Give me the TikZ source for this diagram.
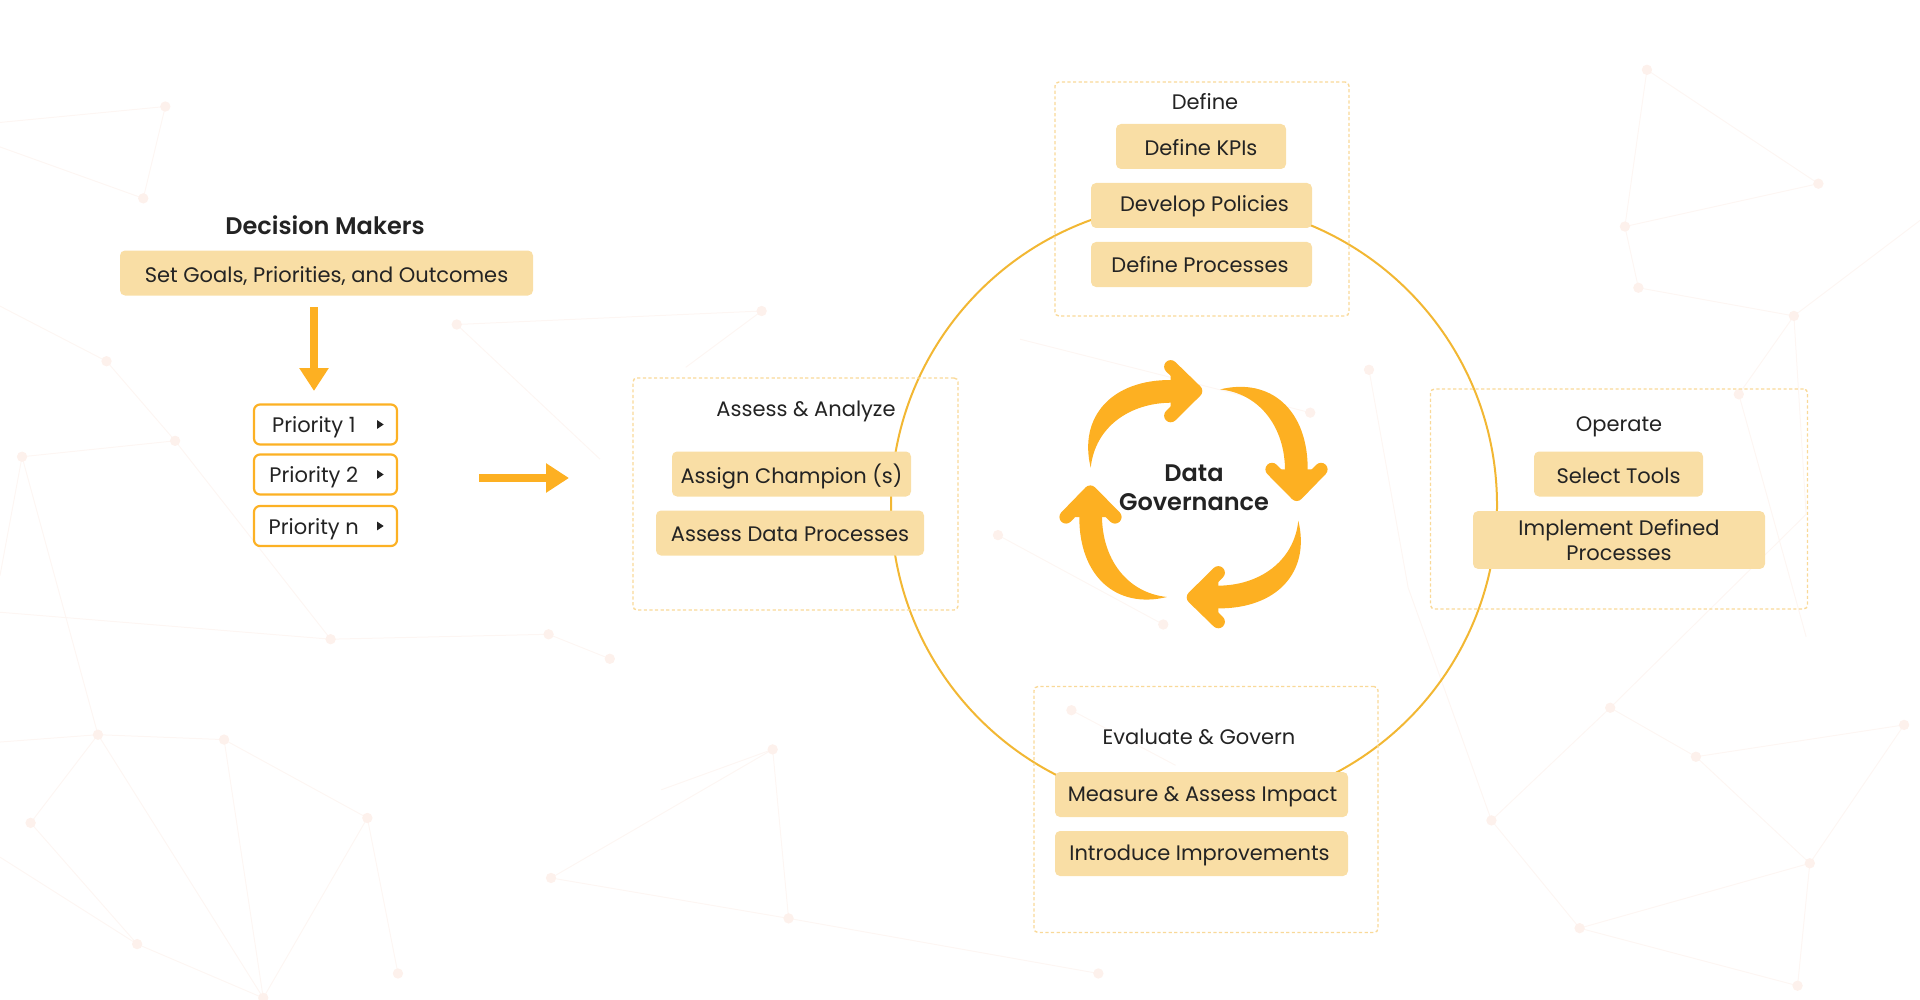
\documentclass[tikz,border=0pt]{standalone}
\usepackage{fontspec}
\setmainfont[BoldFont={Poppins SemiBold}]{Poppins}
\usepackage{tikz}
\usetikzlibrary{arrows.meta}
\definecolor{amber}{HTML}{FDB022}
\definecolor{sand}{HTML}{F9DEA5}
\definecolor{ringline}{HTML}{F2B733}
\definecolor{inkline}{HTML}{232323}
\definecolor{mist}{HTML}{FDF6F3}
\definecolor{mistdot}{HTML}{FDF1EC}
\def\picwidth{1920}
\def\hauteur{1000}
\tikzset{
	stepbox/.style={fill=sand, rounded corners=2.5pt, inner sep=0pt, text=inkline, align=center, font=\fontsize{10.5}{12.6}\selectfont},
	titlenode/.style={inner sep=0pt, anchor=base, text=inkline, font=\fontsize{10.5}{12}\selectfont},
	groupbox/.style={draw=sand!90!amber, line width=0.7pt, dash pattern=on 1.6pt off 1.2pt, rounded corners=2pt},
	prioritybox/.style={draw=amber!90!ringline, fill=white, line width=1.1pt, rounded corners=3pt, inner sep=0pt, minimum width=71.5pt, minimum height=20pt, text height=9pt, text depth=0pt, text=inkline, font=\fontsize{10.5}{12}\selectfont},
	bigarrow/.style={draw=amber, line width=4pt, -{Triangle[width=14pt,length=11.5pt]}}
}
\newcommand{\sizedbox}[7]{\node[stepbox, text height=9pt, text depth=0pt, minimum width=#4*0.5pt, minimum height=#5*0.5pt] (#1) at (#2,#3) {\raisebox{#6}{#7}};}
\begin{document}
\begin{tikzpicture}[x=0.5pt, y=-0.5pt]
	\useasboundingbox (0,0) rectangle (\picwidth,\hauteur);
	% faint network behind everything
	\begin{scope}[x=0.61225pt, y=-0.61225pt]
	\foreach \xa/\ya/\xb/\yb in {0/100/135/87, 135/87/117/162, 117/162/0/120, 87/295/143/360, 143/360/18/373, 18/373/0/470, 18/373/80/600, 143/360/270/522, 0/500/270/522, 87/295/0/250, 80/600/183/604, 183/604/300/668, 80/600/25/672, 80/600/215/815, 183/604/215/815, 300/668/215/815, 300/668/325/795, 25/672/112/771, 112/771/215/815, 112/771/0/700, 0/606/80/600, 373/265/622/254, 373/265/490/375, 622/254/560/300, 448/518/498/538, 270/522/448/518, 450/717/631/612, 631/612/644/750, 450/717/644/750, 644/750/897/795, 631/612/540/645, 1345/57/1485/150, 1485/150/1327/185, 1345/57/1327/185, 1327/185/1338/235, 1338/235/1465/258, 1465/258/1420/322, 1465/258/1568/180, 1465/258/1475/420, 1420/322/1475/520, 1315/578/1385/618, 1385/618/1555/592, 1315/578/1218/670, 1218/670/1290/758, 1290/758/1478/705, 1385/618/1478/705, 1478/705/1468/805, 1290/758/1468/805, 1218/670/1150/480, 1315/578/1475/420, 1555/592/1478/705, 1118/302/1150/480, 833/277/1070/337, 815/437/950/510, 875/580/960/625}
		\draw[mist, line width=0.5pt] (\xa,\ya)--(\xb,\yb);
	\foreach \xa/\ya in {135/87, 117/162, 87/295, 143/360, 18/373, 270/522, 80/600, 183/604, 300/668, 25/672, 112/771, 215/815, 325/795, 450/717, 631/612, 644/750, 498/538, 448/518, 622/254, 373/265, 1345/57, 1485/150, 1327/185, 1338/235, 1465/258, 1420/322, 1315/578, 1385/618, 1555/592, 1218/670, 1290/758, 1478/705, 1468/805, 897/795, 875/580, 1070/337, 815/437, 950/510, 1118/302}
		\fill[mistdot] (\xa,\ya) circle (2.6pt);
	\end{scope}
	% big ring
	\draw[ringline, line width=1pt] (1194,505) circle (151.5pt);
	% left column
	\node[titlenode, font=\fontsize{12}{14}\bfseries] (deciders) at (325,234.5) {Decision Makers};
	\sizedbox{goals}{326.5}{273}{413}{45}{-.1pt}{Set Goals, Priorities, and Outcomes}
	\coordinate (downtop) at (314,307);
	\coordinate (downend) at (314,391);
	\draw[bigarrow] (downtop)--(downend);
	\foreach \nam/\yy/\lab/\lift in {pone/424.5/Priority 1/.4pt, ptwo/474.5/Priority 2/.65pt, pthree/526/Priority n/.1pt}{
		\node[prioritybox] (\nam) at (325.5,\yy) {\hspace{-11.7pt}\raisebox{\lift}{\lab}};
		\fill[inkline] ([xshift=-10.5pt,yshift=2.2pt]\nam.east) -- ++(3.3pt,-2.2pt) -- ++(-3.3pt,-2.2pt) -- cycle;
	}
	\coordinate (righttail) at (479,478);
	\coordinate (righthead) at (569,478);
	\draw[bigarrow] (righttail)--(righthead);
	% group frames
	\node[groupbox, minimum width=147pt, minimum height=117pt] (framedefine) at (1202,199) {};
	\node[groupbox, minimum width=162.5pt, minimum height=116pt] (frameassess) at (795.5,494) {};
	\node[groupbox, minimum width=188.5pt, minimum height=110pt] (frameoperate) at (1619,499) {};
	\node[groupbox, minimum width=172pt, minimum height=123pt] (frameevaluate) at (1206,809.5) {};
	% define
	\node[titlenode] (definetitle) at (1205,109.5) {Define};
	\sizedbox{kpis}{1201}{146.5}{170}{45}{-.25pt}{Define KPIs}
	\sizedbox{policies}{1201.5}{205.5}{221}{45}{1.4pt}{\hspace{3pt}Develop Policies}
	\sizedbox{processes}{1201.5}{264.5}{221}{45}{.75pt}{Define Processes\hspace{1.5pt}}
	% assess
	\node[titlenode] (assesstitle) at (806,416.9) {Assess \& Analyze};
	\sizedbox{champion}{791.5}{474}{239}{45}{-.2pt}{Assign Champion (s)}
	\sizedbox{dataproc}{790}{533}{268}{45}{.5pt}{Assess Data Processes}
	% operate
	\node[titlenode] (operatetitle) at (1619,431.9) {Operate};
	\sizedbox{tools}{1618.5}{474}{169}{45}{-.2pt}{Select Tools}
	\node[stepbox, minimum width=146pt, minimum height=28.9pt] (implement) at (1619,540) {Implement Defined\\Processes};
	% evaluate
	\node[titlenode] (evaluatetitle) at (1199,744.5) {Evaluate \& Govern};
	\sizedbox{impact}{1201.5}{794.5}{293}{45}{1.15pt}{\hspace{1pt}Measure \& Assess Impact}
	\sizedbox{improve}{1201.5}{853.5}{293}{45}{1pt}{Introduce Improvements\hspace{2pt}}
	% cycle arrows
	\foreach \ang/\dx/\dy in {0/0/0,-90/0/0,-180/0/2,-270/-2/0}{
	\begin{scope}[shift={(1194.5+\dx,493.2+\dy)}, rotate=\ang]
		\fill[amber] (-103.8,-25.5) .. controls (-116.2,-76.5) and (-82.8,-113.8) .. (-22.8,-113.2) -- (-22.8,-90.5) .. controls (-64.5,-90.5) and (-99.5,-66.5) .. (-103.8,-25.5) -- cycle;
		\filldraw[amber, line width=6.6pt, line cap=round, line join=round] (-23.8,-126.5) -- (1.2,-102.2) -- (-23.8,-77.5);
	\end{scope}
	}
	\node[titlenode, align=center, anchor=center, font=\fontsize{12}{14.5}\bfseries] (hub) at (1194,488) {Data\\Governance};
\end{tikzpicture}
\end{document}
